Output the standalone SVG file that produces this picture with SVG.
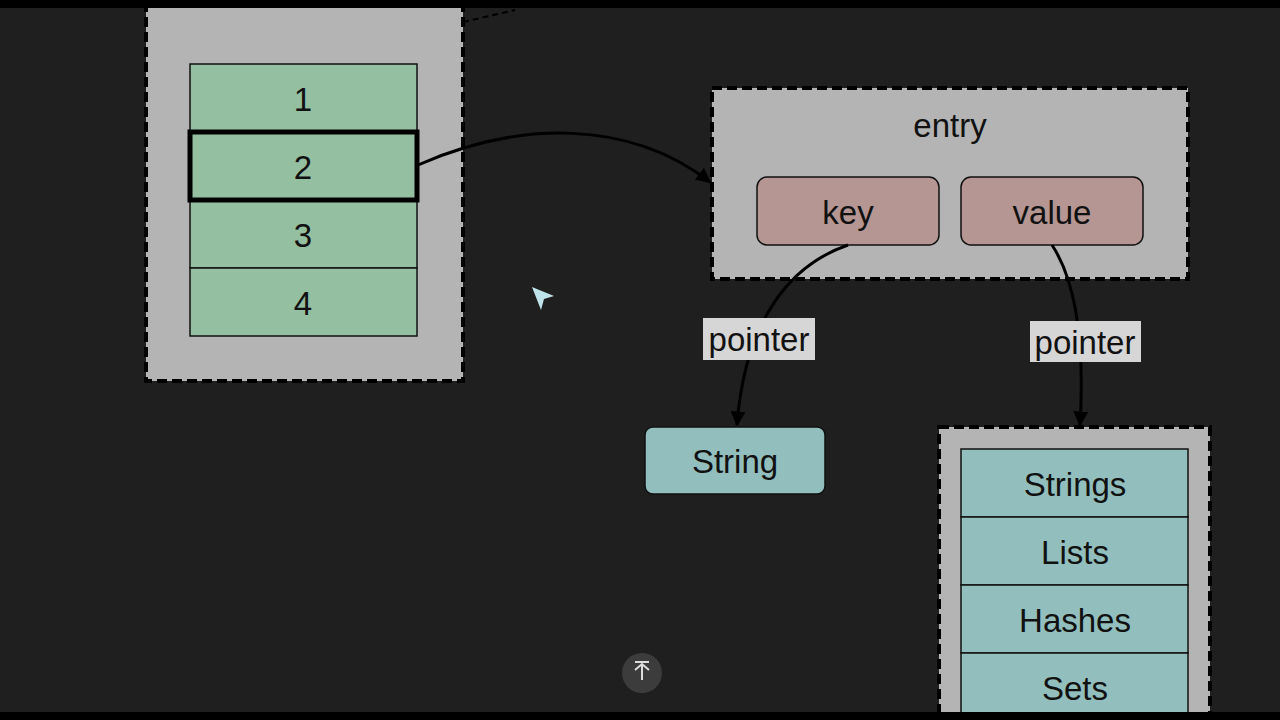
<svg xmlns="http://www.w3.org/2000/svg" width="1280" height="720" viewBox="0 0 1280 720">
<style>
.cont{fill:#b4b4b4;stroke:#000;stroke-width:4;stroke-dasharray:10 5}
.row{fill:#94bfa1;stroke:#111;stroke-width:1.5}
.sel{stroke:#000;stroke-width:5}
.kv{fill:#b59692;stroke:#111;stroke-width:1.5}
.teal{fill:#92bfbd;stroke:#111;stroke-width:1.5}
text{font-family:"Liberation Sans",Arial,sans-serif;font-size:33px;fill:#111;text-anchor:middle;dominant-baseline:central}
.lbl{fill:#d6d6d6}
.c{fill:none;stroke:#000;stroke-width:3}
</style>
<defs><marker id="ah" viewBox="0 0 10 10" refX="9" refY="5" markerWidth="5" markerHeight="5" orient="auto"><path d="M0,0L10,5L0,10z" fill="#000"/></marker></defs>
<rect width="1280" height="720" fill="#1f1f1f"/>
<g id="table">
<rect class="cont" x="146" y="4" width="317" height="377"/>
<line x1="463" y1="22" x2="515" y2="10" stroke="#000" stroke-width="2" stroke-dasharray="6 4"/>
<rect class="row" x="190" y="64" width="227" height="68"/><text x="303" y="99">1</text>
<rect class="row" x="190" y="200" width="227" height="68"/><text x="303" y="235">3</text>
<rect class="row" x="190" y="268" width="227" height="68"/><text x="303" y="303">4</text>
<rect class="row sel" x="190" y="132" width="227" height="68"/><text x="303" y="167">2</text>
</g>
<g id="entry">
<rect class="cont" x="712" y="88" width="476" height="191"/>
<text x="950" y="125">entry</text>
</g>
<g id="key"><rect class="kv" x="757" y="177" width="182" height="68" rx="10"/><text x="848" y="212">key</text></g>
<g id="value"><rect class="kv" x="961" y="177" width="182" height="68" rx="10"/><text x="1052" y="212">value</text></g>
<g id="string"><rect class="teal" x="645" y="427" width="180" height="67" rx="8"/><text x="735" y="461">String</text></g>
<g id="types">
<rect class="cont" x="939" y="427" width="271" height="300"/>
<rect class="teal" x="961" y="449" width="227" height="68"/><text x="1075" y="484">Strings</text>
<rect class="teal" x="961" y="517" width="227" height="68"/><text x="1075" y="552">Lists</text>
<rect class="teal" x="961" y="585" width="227" height="68"/><text x="1075" y="620">Hashes</text>
<rect class="teal" x="961" y="653" width="227" height="68"/><text x="1075" y="688">Sets</text>
</g>
<g id="connectors">
<path class="c" d="M418,165 C520,120 630,120 710,182" marker-end="url(#ah)"/>
<path class="c" d="M848,245 C790,265 745,320 737,425" marker-end="url(#ah)"/>
<path class="c" d="M1052,245 C1075,280 1085,340 1080,425" marker-end="url(#ah)"/>
<rect class="lbl" x="703" y="318" width="112" height="42"/><text x="759" y="339">pointer</text>
<rect class="lbl" x="1030" y="321" width="111" height="41"/><text x="1085" y="342">pointer</text>
</g>
<rect width="1280" height="8" fill="#000"/>
<rect y="712" width="1280" height="8" fill="#000"/>
<path d="M532,287 L554,296 L544,299 L541,310 Z" fill="#bfe3ea"/>
<circle cx="642" cy="673" r="20" fill="#3c3c3c"/>
<path d="M635,670 L642,664 L649,670 M635,662 H649 M642,664 V680" fill="none" stroke="#ddd" stroke-width="2"/>
</svg>
